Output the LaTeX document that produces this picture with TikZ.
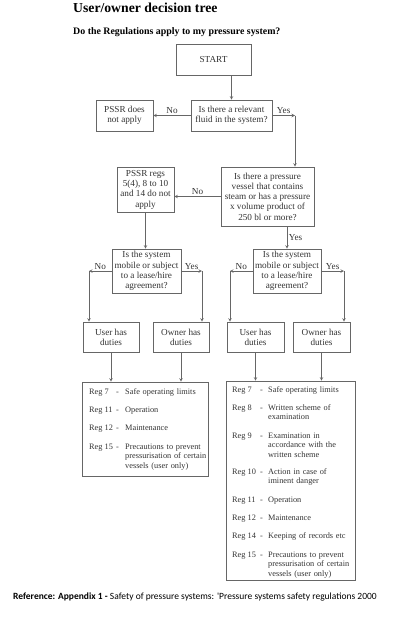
\documentclass[tikz,border=0pt]{standalone}
\usepackage{fontspec}
\setmainfont{Liberation Serif}
\newfontfamily\footfont{Carlito}
\tikzstyle{arrow} = [->,>=stealth,draw=black!60,line width=0.6pt]
\tikzstyle{box} = [draw=black!60,line width=0.6pt,text=black!80,font=\fontsize{9.2}{10.3}\selectfont,align=center,inner sep=0pt]
\tikzstyle{lbl} = [text=black!80,font=\fontsize{9.2}{10.3}\selectfont,inner sep=1.5pt]
\tikzstyle{reg} = [anchor=base west,inner sep=0pt,text=black!80,font=\fontsize{8.3}{9.3}\selectfont]

\begin{document}
\begin{tikzpicture}[x=1pt,y=-1pt]
  \useasboundingbox (0,0) rectangle (400,621);
  \node[anchor=west,inner sep=0pt,font=\fontsize{13.7}{15}\selectfont\bfseries] at (73,8) (title) {User/owner decision tree};
  \node[anchor=west,inner sep=0pt,font=\fontsize{9.9}{11}\selectfont\bfseries] at (73,32) (question) {Do the Regulations apply to my pressure system?};

  \node[box,minimum width=75,minimum height=31] at (213.5,59.5) (start) {START};
  \node[box,minimum width=81,minimum height=31] at (231.5,115.5) (fluid) {Is there a relevant\\fluid in the system?};
  \node[box,minimum width=57,minimum height=31] at (124.5,115.5) (notapply) {PSSR does\\not apply};
  \node[box,minimum width=93,minimum height=59] at (267.5,196.5) (vessel) {Is there a pressure\\vessel that contains\\steam or has a pressure\\x volume product of\\250 bl or more?};
  \node[box,minimum width=57,minimum height=45] at (145.5,189.5) (regs) {PSSR regs\\5(4), 8 to 10\\and 14 do not\\apply};
  \node[box,minimum width=69,minimum height=44] at (146.5,271) (mobL) {Is the system\\mobile or subject\\to a lease/hire\\agreement?};
  \node[box,minimum width=68,minimum height=44] at (287,271) (mobR) {Is the system\\mobile or subject\\to a lease/hire\\agreement?};
  \node[box,minimum width=56,minimum height=30] at (111,337) (userL) {User has\\duties};
  \node[box,minimum width=56,minimum height=30] at (181,337) (ownerL) {Owner has\\duties};
  \node[box,minimum width=57,minimum height=30] at (255.5,337) (userR) {User has\\duties};
  \node[box,minimum width=57,minimum height=30] at (321.5,337) (ownerR) {Owner has\\duties};
  \node[box,minimum width=126,minimum height=94] at (145,429) (regL) {};
  \node[box,minimum width=129,minimum height=199] at (290.5,480.5) (regR) {};

  \coordinate (yesF) at (295,115.5);
  \coordinate (noL) at (89,271);
  \coordinate (yesL) at (202,271);
  \coordinate (noR) at (230,271);
  \coordinate (yesR) at (344,271);

  \draw[arrow] (start.south -| fluid.north) -- (fluid.north);
  \draw[arrow] (fluid.west) -- (notapply.east) node[lbl,midway,above]{No};
  \draw[arrow] (fluid.east) -- (yesF) node[lbl,midway,above]{Yes};
  \draw[arrow] (yesF) -- (yesF |- vessel.north);
  \draw[arrow] (vessel.west) -- (vessel.west -| regs.east) node[lbl,midway,above]{No};
  \draw[arrow] (regs.south) -- (regs.south |- mobL.north);
  \draw[arrow] (vessel.south -| mobR.north) -- (mobR.north) node[lbl,midway,right]{Yes};

  \draw[arrow] (mobL.west) -- (noL) node[lbl,midway,above]{No};
  \draw[arrow] (noL) -- (noL |- userL.north);
  \draw[arrow] (mobL.east) -- (yesL) node[lbl,midway,above]{Yes};
  \draw[arrow] (yesL) -- (yesL |- ownerL.north);
  \draw[arrow] (mobR.west) -- (noR) node[lbl,midway,above]{No};
  \draw[arrow] (noR) -- (noR |- userR.north);
  \draw[arrow] (mobR.east) -- (yesR) node[lbl,midway,above]{Yes};
  \draw[arrow] (yesR) -- (yesR |- ownerR.north);

  \draw[arrow] (userL.south) -- (userL.south |- regL.north);
  \draw[arrow] (ownerL.south) -- (ownerL.south |- regL.north);
  \draw[arrow] (userR.south) -- (userR.south |- regR.north);
  \draw[arrow] (ownerR.south) -- (ownerR.south |- regR.north);

  % regulations for the left branch
  \foreach \y/\n/\t in {394.5/7/{Safe operating limits}, 412.5/11/Operation, 430.5/12/Maintenance,
      449.5/15/{Precautions to prevent\\pressurisation of certain\\vessels (user only)}} {
    \node[reg] at (89,\y) (lreg\n) {Reg \n};
    \node[reg] at (116,\y) (ldash\n) {-};
    \node[reg,text width=85pt,align=left] at (125,\y) (ltext\n) {\t};
  }
  % regulations for the right branch
  \foreach \y/\n/\t in {392.5/7/{Safe operating limits}, 410.5/8/{Written scheme of\\examination},
      438.5/9/{Examination in\\accordance with the\\written scheme}, 474.5/10/{Action in case of\\iminent danger},
      502.5/11/Operation, 520.5/12/Maintenance, 538.5/14/{Keeping of records etc},
      557.5/15/{Precautions to prevent\\pressurisation of certain\\vessels (user only)}} {
    \node[reg] at (232,\y) (rreg\n) {Reg \n};
    \node[reg] at (260,\y) (rdash\n) {-};
    \node[reg,text width=85pt,align=left] at (268,\y) (rtext\n) {\t};
  }

  \node[anchor=west,inner sep=0pt,font=\footfont\fontsize{9.5}{11}\selectfont] at (13,597) (source) {\textbf{Reference: Appendix 1 -} Safety of pressure systems: 'Pressure systems safety regulations 2000};
\end{tikzpicture}
\end{document}
